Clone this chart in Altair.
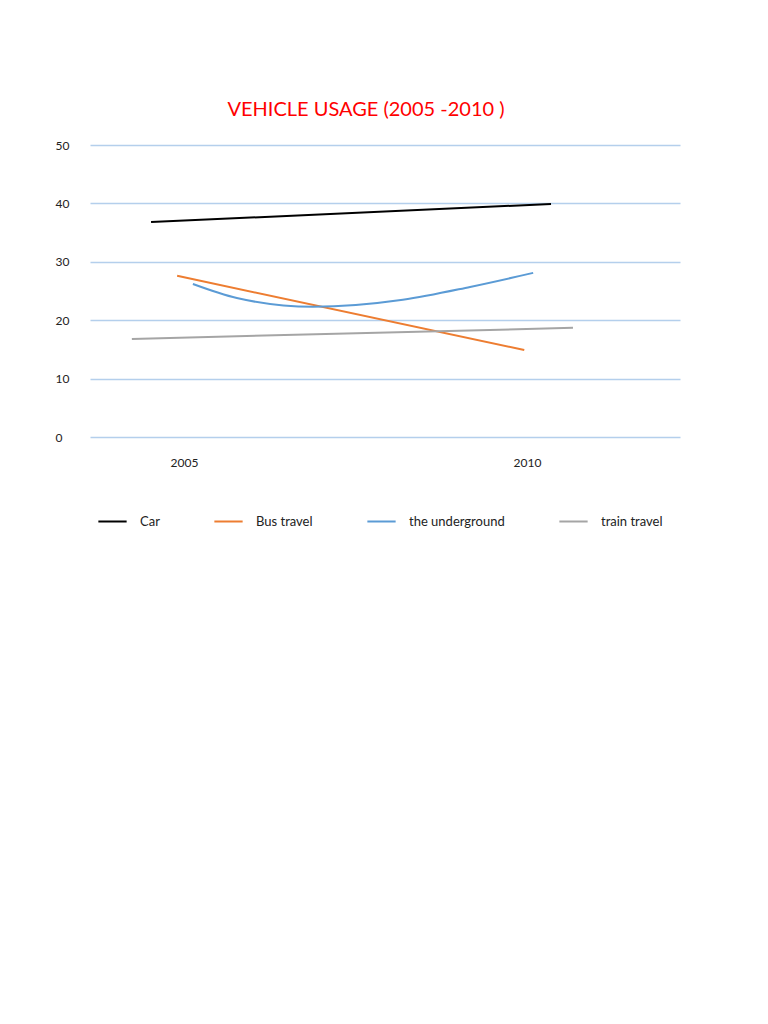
import pandas as pd
import altair as alt

# series (year, value)
car_x = [2004.52, 2010.35]
car_y = [36.8, 39.9]
bus_x = [2004.9, 2009.96]
bus_y = [27.6, 14.9]
under_x = [2005.13, 2005.77, 2006.88, 2008.19, 2009.17, 2010.09]
under_y = [26.2, 23.8, 22.3, 23.5, 25.7, 28.1]
train_x = [2004.24, 2010.67]
train_y = [16.8, 18.7]

series = ["Car", "Bus travel", "the underground", "train travel"]
colors = ["#000000", "#ED7D31", "#5B9BD5", "#A5A5A5"]

rows = []
for name, xs, ys in [("Car", car_x, car_y), ("Bus travel", bus_x, bus_y),
                     ("the underground", under_x, under_y),
                     ("train travel", train_x, train_y)]:
    for i, (x, y) in enumerate(zip(xs, ys)):
        rows.append({"series": name, "year": x, "value": y, "order": i})
data = pd.DataFrame(rows)

chart = alt.Chart(data).mark_line(interpolate="monotone", strokeWidth=2).encode(
    x=alt.X("year:Q", title=None,
            scale=alt.Scale(domain=[2003.63, 2012.23], nice=False, zero=False),
            axis=alt.Axis(values=[2005, 2010], format="d", grid=False, domain=False,
                          ticks=False, labelPadding=20, labelFontSize=12,
                          labelColor="#222222", labelFont="Lato")),
    y=alt.Y("value:Q", title=None,
            scale=alt.Scale(domain=[0, 50], nice=False),
            axis=alt.Axis(values=[0, 10, 20, 30, 40, 50], grid=True, gridColor="#B4CFEC",
                          gridWidth=1.5, domain=False, ticks=False, labelAlign="left",
                          labelPadding=35, labelFontSize=12, labelColor="#222222",
                          labelFont="Lato")),
    color=alt.Color("series:N", sort=series,
                    scale=alt.Scale(domain=series, range=colors),
                    legend=alt.Legend(title=None, orient="none", legendX=7, legendY=361,
                                      direction="horizontal", columns=4, gridAlign="none",
                                      columnPadding=50, symbolType="stroke",
                                      symbolSize=800, symbolStrokeWidth=2,
                                      labelOffset=12, labelFontSize=13,
                                      labelFont="Lato", labelColor="#222222")),
    order="order:O",
    detail="series:N",
).properties(
    width=590,
    height=292,
    title=alt.TitleParams("VEHICLE USAGE (2005 -2010 )", color="#FF0000", fontSize=20,
                          font="Lato", fontWeight="normal", anchor="middle",
                          dx=-19, offset=19),
    padding={"left": 47, "top": 92, "right": 10, "bottom": 10},
).configure_view(strokeWidth=0)

chart.save("out.html", embed_options={"renderer": "svg", "actions": False})
